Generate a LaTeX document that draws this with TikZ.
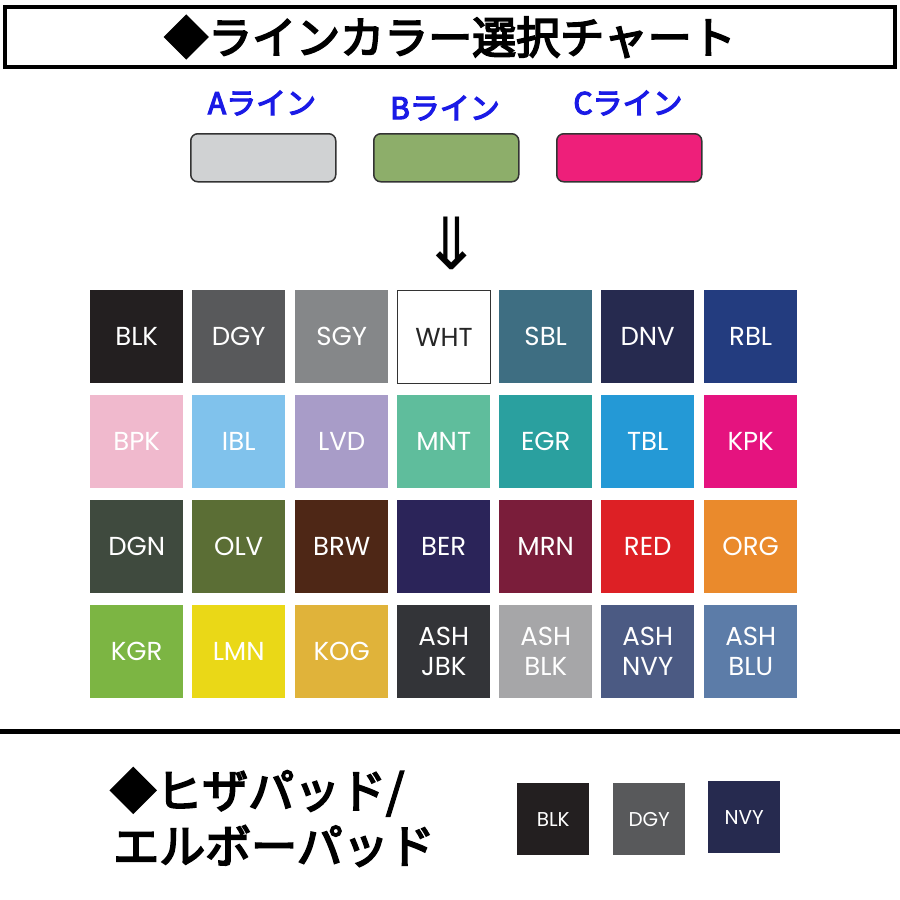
\documentclass[tikz,border=0pt]{standalone}
\usepackage{fontspec}
\setmainfont{Lato}
\newfontfamily\cjk[FakeBold=4]{Noto Sans CJK JP}
\newfontfamily\sw{Poppins}
\usepackage{xcolor}
\definecolor{cBLK}{HTML}{231F20}\definecolor{cDGY}{HTML}{58595B}\definecolor{cSGY}{HTML}{858789}
\definecolor{cSBL}{HTML}{3E6E82}\definecolor{cDNV}{HTML}{262A4F}\definecolor{cRBL}{HTML}{233C7F}
\definecolor{cBPK}{HTML}{F0B9CD}\definecolor{cIBL}{HTML}{80C2EC}\definecolor{cLVD}{HTML}{A89CC8}
\definecolor{cMNT}{HTML}{5FBD9C}\definecolor{cEGR}{HTML}{2AA09F}\definecolor{cTBL}{HTML}{2499D6}
\definecolor{cKPK}{HTML}{E5137F}\definecolor{cDGN}{HTML}{3F4A3E}\definecolor{cOLV}{HTML}{5B6E35}
\definecolor{cBRW}{HTML}{4E2716}\definecolor{cBER}{HTML}{2B2459}\definecolor{cMRN}{HTML}{7A1D3A}
\definecolor{cRED}{HTML}{DD2025}\definecolor{cORG}{HTML}{EA8A2C}\definecolor{cKGR}{HTML}{7CB543}
\definecolor{cLMN}{HTML}{EAD817}\definecolor{cKOG}{HTML}{E0B33A}\definecolor{cAJBK}{HTML}{333438}
\definecolor{cABLK}{HTML}{A6A6A8}\definecolor{cANVY}{HTML}{4B5A83}\definecolor{cABLU}{HTML}{5C7CA8}
\definecolor{lineA}{HTML}{D0D2D3}\definecolor{lineB}{HTML}{8DAE6A}\definecolor{lineC}{HTML}{EE1F7A}
\definecolor{lblue}{HTML}{1A1AE6}
\begin{document}
\begin{tikzpicture}[x=1pt,y=-1pt,
  swatch/.style={minimum width=93pt,minimum height=93pt,inner sep=0pt,anchor=north west,text=white,font=\sw\fontsize{26}{30}\selectfont,align=center},
  small/.style={minimum width=72pt,minimum height=72pt,inner sep=0pt,anchor=north west,text=white,font=\sw\fontsize{20}{22}\selectfont},
  linebox/.style={draw=black!80,line width=1.5pt,rounded corners=7pt,minimum width=145pt,minimum height=48pt,anchor=north west,inner sep=0pt},
  linelbl/.style={text=lblue,font=\cjk\fontsize{30}{32}\selectfont},
  jp/.style={font=\cjk\fontsize{46}{48}\selectfont,anchor=west,inner sep=0pt}]
\useasboundingbox (0,0) rectangle (900,900);
\fill[white] (0,0) rectangle (900,900);
\node[draw=black,line width=4pt,minimum width=890pt,minimum height=60pt,anchor=north west,inner sep=0pt] (title) at (3,5) {};
\node[font=\cjk\fontsize{44}{46}\selectfont] (tt) at (title.center) {◆ラインカラー選択チャート};
\node[linelbl] (la) at (262,103) {Aライン};
\node[linelbl] (lb) at (445,108) {Bライン};
\node[linelbl] (lc) at (628,103) {Cライン};
\node[linebox,fill=lineA] (ba) at (190,133) {};
\node[linebox,fill=lineB] (bb) at (373,133) {};
\node[linebox,fill=lineC] (bc) at (556,133) {};
\node[font=\fontspec{DejaVu Sans}\fontsize{72}{72}\selectfont] (arr) at (452,243) {⇓};
% row 1
\node[swatch,fill=cBLK] (s11) at (90,290) {BLK};
\node[swatch,fill=cDGY] (s12) at (192,290) {DGY};
\node[swatch,fill=cSGY] (s13) at (295,290) {SGY};
\node[swatch,fill=white,draw=black!80,line width=1pt,text=black!85] (s14) at (397,290) {WHT};
\node[swatch,fill=cSBL] (s15) at (499,290) {SBL};
\node[swatch,fill=cDNV] (s16) at (601,290) {DNV};
\node[swatch,fill=cRBL] (s17) at (704,290) {RBL};
% row 2
\node[swatch,fill=cBPK] (s21) at (90,395) {BPK};
\node[swatch,fill=cIBL] (s22) at (192,395) {IBL};
\node[swatch,fill=cLVD] (s23) at (295,395) {LVD};
\node[swatch,fill=cMNT] (s24) at (397,395) {MNT};
\node[swatch,fill=cEGR] (s25) at (499,395) {EGR};
\node[swatch,fill=cTBL] (s26) at (601,395) {TBL};
\node[swatch,fill=cKPK] (s27) at (704,395) {KPK};
% row 3
\node[swatch,fill=cDGN] (s31) at (90,500) {DGN};
\node[swatch,fill=cOLV] (s32) at (192,500) {OLV};
\node[swatch,fill=cBRW] (s33) at (295,500) {BRW};
\node[swatch,fill=cBER] (s34) at (397,500) {BER};
\node[swatch,fill=cMRN] (s35) at (499,500) {MRN};
\node[swatch,fill=cRED] (s36) at (601,500) {RED};
\node[swatch,fill=cORG] (s37) at (704,500) {ORG};
% row 4
\node[swatch,fill=cKGR] (s41) at (90,605) {KGR};
\node[swatch,fill=cLMN] (s42) at (192,605) {LMN};
\node[swatch,fill=cKOG] (s43) at (295,605) {KOG};
\node[swatch,fill=cAJBK] (s44) at (397,605) {ASH\\JBK};
\node[swatch,fill=cABLK] (s45) at (499,605) {ASH\\BLK};
\node[swatch,fill=cANVY] (s46) at (601,605) {ASH\\NVY};
\node[swatch,fill=cABLU] (s47) at (704,605) {ASH\\BLU};
% separator
\coordinate (sepL) at (0,731); \coordinate (sepR) at (900,731);
\draw[line width=5pt] (sepL) -- (sepR);
\node[jp] (k1) at (110,792) {◆ヒザパッド/};
\node[jp] (k2) at (113,846) {エルボーパッド};
\node[small,fill=cBLK] (p1) at (517,783) {BLK};
\node[small,fill=cDGY] (p2) at (613,783) {DGY};
\node[small,fill=cDNV] (p3) at (708,781) {NVY};
\end{tikzpicture}
\end{document}
